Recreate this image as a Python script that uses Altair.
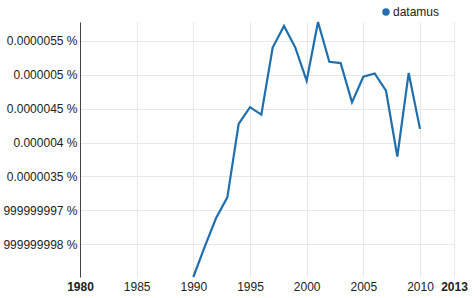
import altair as alt
import pandas as pd

years = list(range(1990, 2011))
values_e6 = [2.015, 2.46, 2.882, 3.191, 4.275, 4.522, 4.412, 5.401, 5.721, 5.401,
             4.912, 5.779, 5.191, 5.172, 4.593, 4.971, 5.019, 4.765, 3.794, 5.025, 4.201]
series_name = "datamus"

x_ticks = [1980, 1985, 1990, 1995, 2000, 2005, 2010, 2013]
y_tick_values = [0.0000025, 0.000003, 0.0000035, 0.000004, 0.0000045, 0.000005, 0.0000055]
y_tick_labels = ["999999998 %", "999999997 %", "0.0000035 %", "0.000004 %",
                 "0.0000045 %", "0.000005 %", "0.0000055 %"]

df = pd.DataFrame({
    "year": years,
    "value": [v * 1e-6 for v in values_e6],
    "series": [series_name] * len(years),
})

label_map = "{" + ", ".join(
    f"'{round(v * 1e7)}': '{l}'" for v, l in zip(y_tick_values, y_tick_labels)
) + "}"

chart = alt.Chart(df).mark_line(strokeWidth=2.2, color="#1f6fae").encode(
    x=alt.X("year:Q",
            scale=alt.Scale(domain=[1980, 2013], nice=False, zero=False),
            axis=alt.Axis(values=x_ticks, title=None, format="d", ticks=False, domain=False,
                          labelFontSize=12, labelFont="Liberation Sans", labelColor="#222",
                          labelPadding=4, labelFlush=False, labelOverlap=False,
                          labelFontWeight=alt.ExprRef("datum.value == 1980 || datum.value == 2013 ? 'bold' : 'normal'"),
                          gridColor="#e8e8e8", gridWidth=1)),
    y=alt.Y("value:Q",
            scale=alt.Scale(zero=False, nice=False),
            axis=alt.Axis(values=y_tick_values, title=None, ticks=False,
                          labelExpr=f"{label_map}[''+round(datum.value*1e7)]",
                          labelFontSize=12, labelFont="Liberation Sans", labelColor="#222",
                          labelPadding=3, labelOverlap=False,
                          domainColor="#444", domainWidth=1,
                          gridColor="#e8e8e8", gridWidth=1)),
    color=alt.Color("series:N",
                    scale=alt.Scale(range=["#1f6fae"]),
                    legend=alt.Legend(title=None, orient="none", legendX=300, legendY=-16,
                                      symbolType="circle", symbolFillColor="#1f6fae",
                                      symbolStrokeWidth=0, symbolSize=55, labelFontSize=12,
                                      labelFont="Liberation Sans", labelColor="#222",
                                      labelOffset=1, padding=0)),
).properties(
    width=374, height=255,
    autosize=alt.AutoSizeParams(type="none"),
    padding={"left": 80, "top": 22, "right": 20, "bottom": 21},
).configure_view(stroke=None)

chart.save("out.html", embed_options={"renderer": "svg", "actions": False})
